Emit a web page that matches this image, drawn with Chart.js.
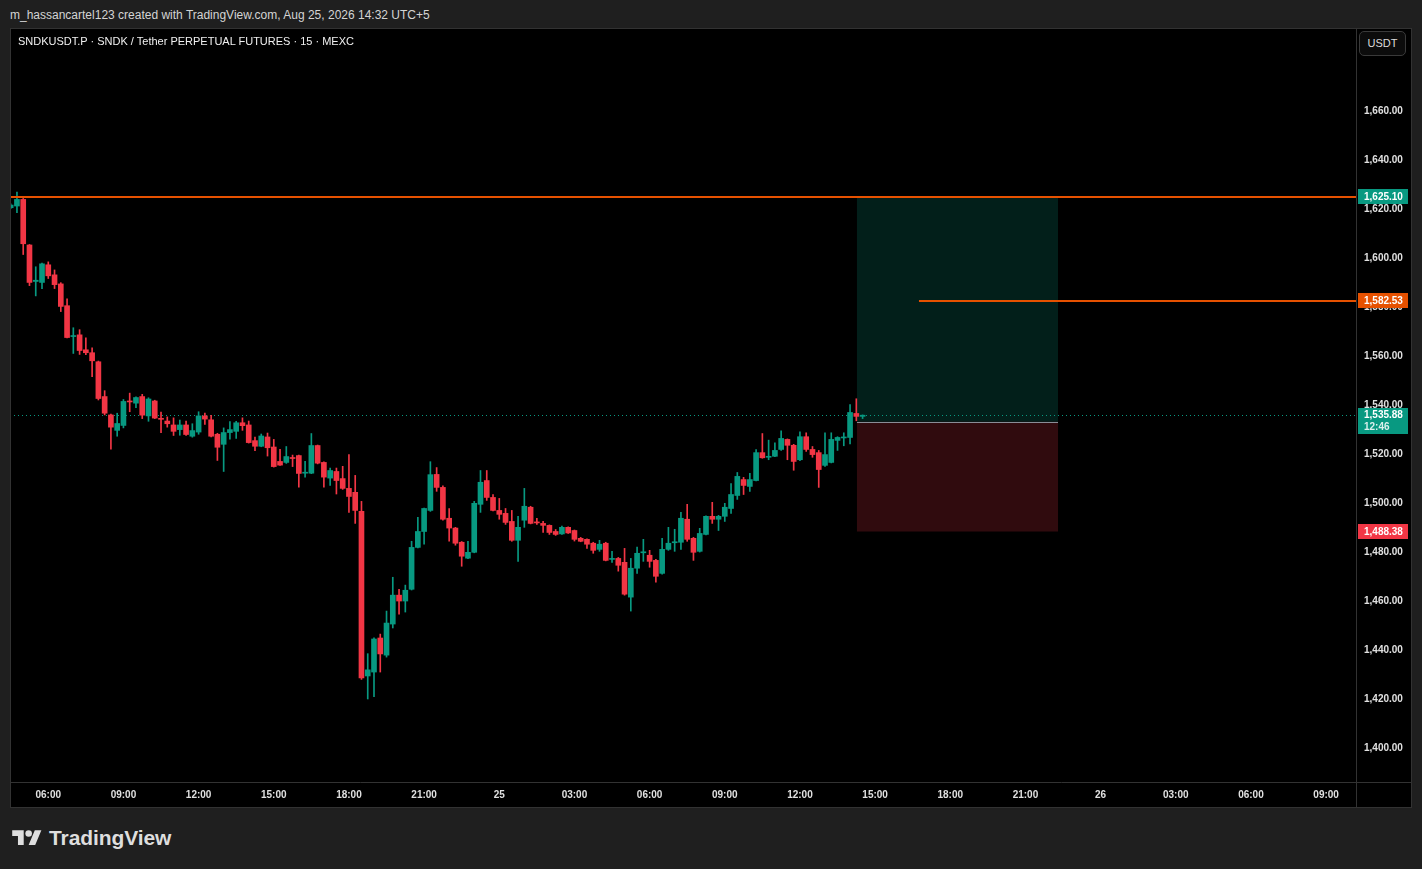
<!DOCTYPE html>
<html>
<head>
<meta charset="utf-8">
<title>SNDKUSDT.P · 15</title>
<script src="https://cdn.jsdelivr.net/npm/chart.js@4.4.1/dist/chart.umd.min.js"></script>
<style>
  html, body { margin: 0; padding: 0; width: 1422px; height: 869px; overflow: hidden; background: #1f1f1f; font-family: "Liberation Sans", Arial, sans-serif; }
  .header { position: absolute; left: 10px; top: 8px; font-size: 12px; color: #d4d4d4; white-space: nowrap; }
  .pane { position: absolute; left: 10px; top: 28px; width: 1402px; height: 780px; background: #000; }
  .pane canvas { position: absolute; left: 0; top: 0; }
  .title { position: absolute; left: 8px; top: 7px; font-size: 11px; color: #f0f0f0; white-space: nowrap; }
  .unit { position: absolute; left: 1349px; top: 3px; width: 47px; height: 25px; box-sizing: border-box; border: 1px solid #3a3a3a; border-radius: 5px; background: #0c0c0c; color: #dcdcdc; font-size: 11px; line-height: 23px; text-align: center; }
  .logo { position: absolute; left: 12px; top: 826px; height: 24px; display: flex; align-items: center; color: #dedede; }
  .logo span { font-size: 21px; font-weight: bold; margin-left: 7px; letter-spacing: -0.1px; }
</style>
</head>
<body>
<div class="header">m_hassancartel123 created with TradingView.com, Aug 25, 2026 14:32 UTC+5</div>
<div class="pane">
  <canvas id="priceChart" width="1402" height="780"></canvas>
  <div class="title">SNDKUSDT.P · SNDK / Tether PERPETUAL FUTURES · 15 · MEXC</div>
  <div class="unit">USDT</div>
</div>
<div class="logo">
  <svg width="30" height="23" viewBox="0 0 36 28" fill="#dedede"><path d="M14 22H7V11H0V4h14v18zM28 22h-8l7.5-18h8L28 22z"/><circle cx="20" cy="8" r="4"/></svg>
  <span>TradingView</span>
</div>
<script>
// 15 minute bars, bar 0 = 06:00 on the 24th, first bar shown is 04:30
const firstBar = -6;

const opens = [
  1620.6, 1621.3, 1624.0, 1605.4, 1590.5, 1590.1, 1597.3, 1593.2, 1589.5, 1580.6,
  1568.0, 1568.7, 1562.6, 1561.4, 1557.7, 1543.5, 1536.0, 1529.7, 1531.7, 1541.7,
  1540.8, 1543.5, 1535.6, 1541.7, 1534.6, 1533.5, 1531.9, 1530.0, 1531.9, 1527.3,
  1529.0, 1535.6, 1534.0, 1528.1, 1524.0, 1528.8, 1529.3, 1532.8, 1531.9, 1525.5,
  1523.2, 1527.0, 1522.9, 1517.0, 1516.6, 1518.6, 1519.4, 1512.2, 1512.2, 1523.5,
  1516.6, 1510.2, 1512.9, 1510.0, 1506.0, 1504.4, 1496.6, 1429.4, 1431.0, 1444.9,
  1437.9, 1450.6, 1462.4, 1460.0, 1464.8, 1481.9, 1488.4, 1497.0, 1511.7, 1506.4,
  1493.8, 1489.8, 1484.0, 1477.5, 1479.9, 1499.5, 1509.2, 1502.3, 1497.0, 1495.8,
  1492.5, 1484.8, 1493.0, 1498.3, 1492.3, 1491.7, 1490.9, 1488.4, 1487.4, 1490.1,
  1488.8, 1485.6, 1485.2, 1483.6, 1481.1, 1483.6, 1477.0, 1477.4, 1475.8, 1461.6,
  1473.4, 1479.7, 1478.7, 1476.6, 1471.3, 1481.1, 1483.8, 1484.0, 1493.4, 1485.6,
  1480.3, 1487.2, 1494.6, 1493.4, 1494.6, 1497.8, 1503.1, 1509.6, 1506.8, 1509.2,
  1520.6, 1518.7, 1519.1, 1521.9, 1526.0, 1523.6, 1517.7, 1527.1, 1521.9, 1520.6,
  1515.4, 1516.6, 1525.6, 1526.6, 1526.8, 1536.6, 1535.4
];
const highs = [
  1622.2, 1627.0, 1624.4, 1605.6, 1596.5, 1598.0, 1598.5, 1595.2, 1590.0, 1583.4,
  1571.6, 1570.8, 1567.5, 1563.4, 1558.0, 1545.9, 1536.3, 1536.7, 1542.3, 1544.9,
  1543.4, 1544.4, 1543.0, 1542.0, 1537.2, 1535.2, 1534.8, 1533.9, 1533.5, 1532.4,
  1537.3, 1536.8, 1535.8, 1528.5, 1530.7, 1533.3, 1533.4, 1534.8, 1533.5, 1527.0,
  1528.2, 1528.6, 1526.0, 1521.9, 1523.1, 1519.6, 1519.6, 1517.0, 1528.4, 1523.7,
  1516.8, 1514.3, 1514.3, 1515.0, 1519.8, 1511.3, 1500.7, 1438.5, 1445.0, 1446.5,
  1455.9, 1469.7, 1464.8, 1466.5, 1484.4, 1494.2, 1498.0, 1516.9, 1514.5, 1507.0,
  1497.8, 1490.1, 1484.3, 1484.4, 1500.7, 1513.3, 1513.3, 1503.5, 1501.9, 1497.8,
  1497.0, 1494.6, 1506.0, 1498.7, 1493.8, 1492.5, 1491.1, 1489.2, 1490.6, 1490.3,
  1489.0, 1486.0, 1485.4, 1484.0, 1484.8, 1484.0, 1480.3, 1477.8, 1481.5, 1477.4,
  1482.0, 1485.2, 1480.7, 1477.0, 1485.6, 1490.1, 1489.3, 1496.2, 1499.5, 1486.0,
  1489.7, 1494.8, 1500.3, 1495.0, 1499.9, 1508.0, 1512.5, 1510.5, 1512.1, 1521.8,
  1528.4, 1525.7, 1524.6, 1529.5, 1526.2, 1524.0, 1529.1, 1528.7, 1523.1, 1521.5,
  1528.7, 1528.7, 1527.1, 1528.7, 1540.2, 1542.6, 1536.0
];
const lows = [
  1620.2, 1618.6, 1601.5, 1588.8, 1584.6, 1587.6, 1591.7, 1587.6, 1578.2, 1567.4,
  1561.1, 1560.7, 1560.6, 1551.6, 1542.1, 1536.0, 1522.0, 1527.3, 1530.7, 1537.3,
  1539.0, 1534.5, 1533.4, 1534.5, 1528.8, 1531.0, 1527.6, 1527.7, 1527.6, 1526.9,
  1528.1, 1532.1, 1527.0, 1517.4, 1512.9, 1526.1, 1526.4, 1529.7, 1524.5, 1521.4,
  1523.0, 1519.2, 1514.7, 1515.4, 1516.2, 1514.9, 1506.5, 1510.6, 1512.0, 1516.0,
  1506.5, 1507.2, 1503.7, 1505.6, 1496.2, 1491.7, 1428.0, 1420.0, 1420.9, 1431.0,
  1437.1, 1449.0, 1454.6, 1455.5, 1464.5, 1481.7, 1483.2, 1496.6, 1504.8, 1493.0,
  1484.4, 1482.8, 1474.2, 1477.3, 1479.7, 1496.2, 1501.1, 1496.8, 1493.4, 1491.3,
  1484.4, 1476.2, 1490.1, 1491.5, 1491.3, 1488.0, 1487.2, 1486.8, 1487.2, 1487.6,
  1484.5, 1484.2, 1481.5, 1479.5, 1480.3, 1476.4, 1475.8, 1472.2, 1462.4, 1455.9,
  1471.3, 1476.2, 1473.8, 1467.7, 1471.0, 1480.7, 1480.3, 1481.1, 1484.4, 1476.6,
  1480.0, 1487.0, 1491.7, 1488.8, 1492.5, 1495.8, 1501.5, 1503.5, 1504.8, 1509.0,
  1518.3, 1517.7, 1518.9, 1521.5, 1517.7, 1513.4, 1517.3, 1521.1, 1518.7, 1506.4,
  1515.0, 1516.4, 1521.5, 1523.4, 1524.2, 1533.6, 1534.5
];
const closes = [
  1621.7, 1624.0, 1605.9, 1590.1, 1591.0, 1597.7, 1592.8, 1589.2, 1580.3, 1567.6,
  1568.3, 1562.3, 1561.4, 1558.1, 1542.7, 1536.7, 1531.0, 1532.5, 1541.5, 1541.3,
  1543.1, 1535.9, 1542.5, 1534.7, 1534.2, 1532.4, 1529.3, 1531.9, 1528.0, 1529.6,
  1535.6, 1534.3, 1527.3, 1522.8, 1528.8, 1530.0, 1532.8, 1531.6, 1524.7, 1523.2,
  1527.4, 1522.6, 1514.9, 1515.5, 1519.0, 1518.2, 1512.1, 1512.5, 1523.5, 1516.3,
  1510.6, 1513.3, 1509.2, 1506.0, 1502.7, 1497.0, 1428.6, 1431.9, 1444.5, 1438.4,
  1451.0, 1462.4, 1460.0, 1464.4, 1481.9, 1488.4, 1497.8, 1511.6, 1506.4, 1493.4,
  1489.8, 1483.6, 1478.3, 1479.9, 1499.9, 1508.5, 1502.3, 1497.0, 1495.4, 1492.1,
  1484.8, 1490.1, 1498.7, 1491.7, 1491.9, 1490.9, 1488.0, 1487.2, 1490.1, 1487.8,
  1485.2, 1484.4, 1483.2, 1480.7, 1483.2, 1476.6, 1477.4, 1474.6, 1462.8, 1473.4,
  1479.5, 1480.1, 1476.2, 1470.1, 1481.1, 1483.6, 1484.2, 1493.8, 1485.2, 1479.9,
  1487.6, 1494.6, 1493.4, 1494.6, 1498.3, 1503.5, 1510.9, 1507.2, 1509.6, 1520.6,
  1518.5, 1519.1, 1521.5, 1526.4, 1523.6, 1517.0, 1527.1, 1521.9, 1519.8, 1513.7,
  1519.8, 1526.0, 1526.8, 1527.0, 1537.0, 1535.4, 1535.88
];

// time axis: a label every 12 bars (3 hours)
const timeTickBars = [0, 12, 24, 36, 48, 60, 72, 84, 96, 108, 120, 132, 144, 156, 168, 180, 192, 204];
const timeTickLabels = ['06:00', '09:00', '12:00', '15:00', '18:00', '21:00', '25', '03:00', '06:00',
  '09:00', '12:00', '15:00', '18:00', '21:00', '26', '03:00', '06:00', '09:00'];
const priceTicks = [1400, 1420, 1440, 1460, 1480, 1500, 1520, 1540, 1560, 1580, 1600, 1620, 1640, 1660];

// long position tool and drawings
const lastPrice = 1535.88;
const countdown = '12:46';
const targetPrice = 1625.10;
const entryPrice = 1533.2;
const stopPrice = 1488.38;
const levelPrice = 1582.53;
const boxFromBar = 129.1;
const boxToBar = 161.2;
const levelFromBar = 139;

const UP = '#089981';
const DOWN = '#f23645';
const ORANGE = '#e65100';
const FONT = '"Liberation Sans", Arial, sans-serif';

const bars = opens.map((o, k) => firstBar + k);
const candleColors = closes.map((c, k) => c >= opens[k] ? UP : DOWN);
const wickData = bars.map((x, k) => ({ x: x, y: [lows[k], highs[k]] }));
const bodyData = bars.map((x, k) => ({ x: x, y: [opens[k], closes[k]] }));

function fmt(v) {
  return v.toLocaleString('en-US', { minimumFractionDigits: 2, maximumFractionDigits: 2 });
}

// price tag on the right axis
function priceTag(ctx, area, y, bg, lines) {
  const h = lines.length > 1 ? 26 : 15;
  const left = area.right + 2;
  ctx.fillStyle = bg;
  ctx.fillRect(left, Math.round(y - 7.5), 50, h);
  ctx.font = 'bold 10px ' + FONT;
  ctx.textBaseline = 'middle';
  ctx.textAlign = 'left';
  ctx.fillStyle = '#ffffff';
  ctx.fillText(lines[0], left + 6, y + 0.5);
  if (lines[1]) {
    ctx.fillStyle = 'rgba(255,255,255,0.85)';
    ctx.fillText(lines[1], left + 6, y + 12);
  }
}

const overlay = {
  id: 'overlay',
  beforeDatasetsDraw(chart) {
    const { ctx, chartArea: a, scales: { x, y } } = chart;
    const x0 = x.getPixelForValue(boxFromBar);
    const x1 = x.getPixelForValue(boxToBar);
    const yT = y.getPixelForValue(targetPrice);
    const yE = y.getPixelForValue(entryPrice);
    const yS = y.getPixelForValue(stopPrice);
    ctx.save();
    ctx.fillStyle = 'rgba(8,153,129,0.2)';
    ctx.fillRect(x0, yT, x1 - x0, yE - yT);
    ctx.fillStyle = 'rgba(242,54,69,0.2)';
    ctx.fillRect(x0, yE, x1 - x0, yS - yE);
    ctx.strokeStyle = '#8a8d96';
    ctx.lineWidth = 1;
    ctx.beginPath();
    ctx.moveTo(x0, Math.round(yE) + 0.5);
    ctx.lineTo(x1, Math.round(yE) + 0.5);
    ctx.stroke();

    // last price dotted line
    const yL = Math.round(y.getPixelForValue(lastPrice)) + 0.5;
    ctx.strokeStyle = UP;
    ctx.setLineDash([1, 3]);
    ctx.beginPath();
    ctx.moveTo(a.left, yL);
    ctx.lineTo(a.right, yL);
    ctx.stroke();
    ctx.restore();
  },
  afterDatasetsDraw(chart) {
    const { ctx, chartArea: a, scales: { x, y } } = chart;
    ctx.save();
    ctx.strokeStyle = ORANGE;
    ctx.lineWidth = 2;
    const yT = Math.round(y.getPixelForValue(targetPrice));
    ctx.beginPath();
    ctx.moveTo(a.left, yT);
    ctx.lineTo(a.right, yT);
    const yLv = Math.round(y.getPixelForValue(levelPrice));
    ctx.moveTo(x.getPixelForValue(levelFromBar), yLv);
    ctx.lineTo(a.right, yLv);
    ctx.stroke();
    ctx.restore();
  },
  afterDraw(chart) {
    const { ctx, chartArea: a, scales: { y }, width, height } = chart;
    ctx.save();
    // pane separators
    ctx.strokeStyle = '#323232';
    ctx.lineWidth = 1;
    ctx.beginPath();
    ctx.moveTo(a.right + 0.5, 0);
    ctx.lineTo(a.right + 0.5, height);
    ctx.moveTo(0, a.bottom + 0.5);
    ctx.lineTo(width, a.bottom + 0.5);
    ctx.stroke();
    ctx.strokeRect(0.5, 0.5, width - 1, height - 1);

    priceTag(ctx, a, y.getPixelForValue(targetPrice), UP, [fmt(targetPrice)]);
    priceTag(ctx, a, y.getPixelForValue(levelPrice), ORANGE, [fmt(levelPrice)]);
    priceTag(ctx, a, y.getPixelForValue(lastPrice), UP, [fmt(lastPrice), countdown]);
    priceTag(ctx, a, y.getPixelForValue(stopPrice), DOWN, [fmt(stopPrice)]);
    ctx.restore();
  }
};

new Chart(document.getElementById('priceChart'), {
  type: 'bar',
  data: {
    datasets: [
      { data: wickData, backgroundColor: candleColors, barThickness: 1, grouped: false, borderWidth: 0 },
      { data: bodyData, backgroundColor: candleColors, barThickness: 5, grouped: false, borderWidth: 0, minBarLength: 1 }
    ]
  },
  options: {
    responsive: false,
    animation: false,
    layout: { padding: 0 },
    plugins: { legend: { display: false }, tooltip: { enabled: false } },
    scales: {
      x: {
        type: 'linear',
        min: -6.11,
        max: 208.77,
        offset: false,
        grid: { display: false, drawTicks: false },
        border: { display: false },
        afterBuildTicks: s => { s.ticks = timeTickBars.map(v => ({ value: v })); },
        afterFit: s => { s.height = 26; s.paddingLeft = 0; s.paddingRight = 0; },
        ticks: {
          autoSkip: false,
          maxRotation: 0,
          padding: 7,
          color: '#e0e0e0',
          font: { size: 10, family: FONT, weight: 'bold' },
          callback: (v, i) => timeTickLabels[i]
        }
      },
      y: {
        position: 'right',
        min: 1386.1,
        max: 1694.0,
        grid: { display: false, drawTicks: false },
        border: { display: false },
        afterBuildTicks: s => { s.ticks = priceTicks.map(v => ({ value: v })); },
        // keep the plot filling the whole pane height
        afterFit: s => { s.width = 56; s.paddingTop = 0; s.paddingBottom = 0; },
        ticks: {
          padding: 8,
          color: '#e0e0e0',
          font: { size: 10, family: FONT, weight: 'bold' },
          callback: v => fmt(v)
        }
      }
    }
  },
  plugins: [overlay]
});
</script>
</body>
</html>
